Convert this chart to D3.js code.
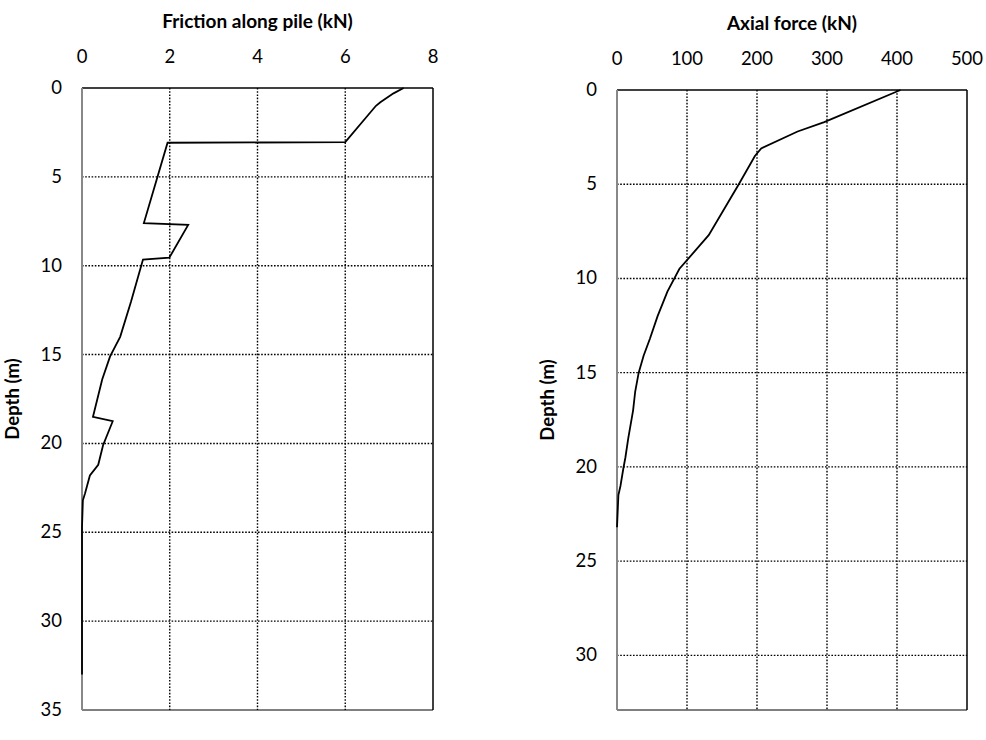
<!DOCTYPE html>
<html><head><meta charset="utf-8">
<script src="https://cdn.jsdelivr.net/npm/d3@7"></script>
<style>body{margin:0;background:#fff}text{font-family:Lato,"Open Sans",sans-serif;fill:#000}</style>
</head><body><svg id="c" width="986" height="740"></svg>
<script>
const frictionDepth=[0,0.3,0.8,1.0,3.05,3.08,7.6,7.7,9.55,9.65,12.0,14.0,15.1,16.4,18.5,18.75,20.1,21.2,21.8,22.8,23.2,24.7,33];
const frictionVal=[7.33,7.1,6.8,6.7,6.0,1.95,1.41,2.42,1.99,1.39,1.12,0.87,0.64,0.46,0.25,0.7,0.48,0.37,0.18,0.07,0.02,0,0];
const axialDepth=[0,1.7,2.2,3.1,3.5,5,7.7,9.5,10.7,12.0,13.2,14.1,15.0,16.0,17.0,18.5,19.5,20.1,21.0,21.5,23.2];
const axialVal=[405,296,258,206,197,174,131,89,72,58,47,38,31,26,23,16,12,9,5,2,0];
const leftXTicks=[0,2,4,6,8], leftYTicks=[0,5,10,15,20,25,30,35];
const rightXTicks=[0,100,200,300,400,500], rightYTicks=[0,5,10,15,20,25,30];
const svg=d3.select("#c");
function panel(o){
  const x=d3.scaleLinear().domain(o.xd).range([o.x0,o.x1]);
  const y=d3.scaleLinear().domain(o.yd).range([o.y0,o.y1]);
  const g=svg.append("g");
  o.xt.forEach(t=>{ if(t>o.xd[0]&&t<o.xd[1]) g.append("line").attr("x1",x(t)).attr("x2",x(t)).attr("y1",o.y0).attr("y2",o.y1).attr("stroke","#000").attr("stroke-width",1.4).attr("stroke-dasharray","1.6,1.6");
    g.append("text").attr("x",x(t)).attr("y",o.y0-25).attr("text-anchor","middle").attr("font-size",18.5).text(t);});
  o.yt.forEach(t=>{ if(t>o.yd[0]&&t<o.yd[1]) g.append("line").attr("y1",y(t)).attr("y2",y(t)).attr("x1",o.x0).attr("x2",o.x1).attr("stroke","#000").attr("stroke-width",1.4).attr("stroke-dasharray","1.6,1.6");
    g.append("text").attr("x",o.x0-20).attr("y",y(t)+6).attr("text-anchor","end").attr("font-size",18.5).text(t);});
  g.append("line").attr("x1",o.x0).attr("x2",o.x1).attr("y1",o.y0).attr("y2",o.y0).attr("stroke","#000").attr("stroke-width",1.5);
  g.append("line").attr("x1",o.x1).attr("x2",o.x1).attr("y1",o.y0).attr("y2",o.y1).attr("stroke","#000").attr("stroke-width",1.5);
  g.append("line").attr("x1",o.x0).attr("x2",o.x1).attr("y1",o.y1).attr("y2",o.y1).attr("stroke","#000").attr("stroke-width",1);
  g.append("line").attr("x1",o.x0).attr("x2",o.x0).attr("y1",o.y0).attr("y2",o.y1).attr("stroke","#888").attr("stroke-width",2);
  const pts=o.d.map((d,i)=>[o.v[i],d]);
  g.append("path").datum(pts).attr("fill","none").attr("stroke","#000").attr("stroke-width",1.8)
    .attr("d",d3.line().x(p=>x(p[0])).y(p=>y(p[1])));
  g.append("text").attr("x",(o.x0+o.x1)/2).attr("y",o.y0-60).attr("text-anchor","middle").attr("font-size",19).attr("font-weight","bold").text(o.title);
  g.append("text").attr("transform",`translate(${o.x0-63},${(o.y0+o.y1)/2}) rotate(-90)`).attr("text-anchor","middle").attr("font-size",18.5).attr("font-weight","bold").text("Depth (m)");
}
panel({x0:82,x1:433,y0:88,y1:710,xd:[0,8],yd:[0,35],xt:leftXTicks,yt:leftYTicks,d:frictionDepth,v:frictionVal,title:"Friction along pile  (kN)"});
panel({x0:617,x1:967,y0:90,y1:710,xd:[0,500],yd:[0,32.9],xt:rightXTicks,yt:rightYTicks,d:axialDepth,v:axialVal,title:"Axial force  (kN)"});
</script></body></html>
